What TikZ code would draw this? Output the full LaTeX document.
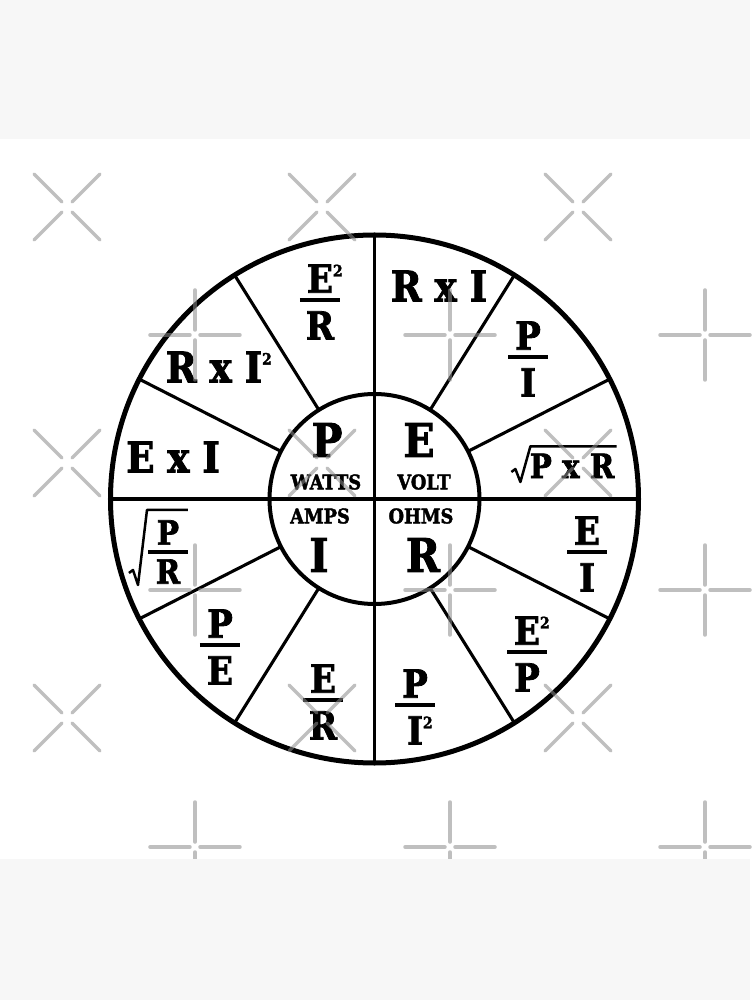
\documentclass[tikz,border=0pt]{standalone}
\usepackage{fontspec}
\setmainfont{DejaVu Serif}[FakeStretch=0.88, BoldFeatures={FakeBold=2}]
\usetikzlibrary{calc}
\definecolor{bandgray}{HTML}{F7F7F7}
\definecolor{markgray}{HTML}{8C8C8C}
\newcommand{\outerRadius}[0]{264}
\newcommand{\innerRadius}[0]{105}
\newcommand{\markOpacity}[0]{0.55}
\newcommand{\twoSup}[0]{\rlap{\smash{\raisebox{0.42em}{\fontsize{9}{9}\selectfont 2}}}}
\newcommand{\ohmFrac}[4]{%
  \coordinate (#1) at (#2);
  \draw[fracbar] ($(#1)+(-20,0)$) -- ($(#1)+(20,0)$);
  \node[fractext, anchor=south] (#1-num) at ($(#1)+(0,7)$) {#3};
  \node[fractext, anchor=north] (#1-den) at ($(#1)+(0,-11)$) {#4};
}

\begin{document}
\begin{tikzpicture}[x=0.2mm, y=0.2mm]
  \tikzset{
    ring/.style={line width=1mm},
    hub/.style={line width=0.8mm},
    spoke/.style={line width=0.62mm},
    fracbar/.style={line width=0.66mm},
    radical/.style={line width=0.5mm, line join=round},
    bigletter/.style={font=\fontsize{26.5}{28}\selectfont\bfseries, inner sep=0},
    unitlabel/.style={font=\fontsize{11.5}{12}\selectfont\bfseries, inner sep=0},
    ringtext/.style={font=\fontsize{24}{26}\selectfont\bfseries, inner sep=0},
    fractext/.style={font=\fontsize{22}{24}\selectfont\bfseries, inner sep=0},
    roottext/.style={font=\fontsize{19}{21}\selectfont\bfseries, inner sep=0},
    watermark/.style={draw=markgray, opacity=\markOpacity, line width=0.7mm, line cap=round}
  }
  \fill[white] (-374.5,-501) rectangle (375.5,499);
  \coordinate (c) at (0,0);
  \coordinate (top) at (90:\outerRadius);
  \coordinate (bottom) at (270:\outerRadius);
  \coordinate (left) at (180:\outerRadius);
  \coordinate (right) at (0:\outerRadius);
  \draw[ring] (c) circle (\outerRadius);
  \draw[hub] (c) circle (\innerRadius);
  \draw[spoke] (top) -- (bottom);
  \draw[spoke] (left) -- (right);
  \foreach \a in {27,58,122,153,207,238,302,333}
    \draw[spoke] (\a:\innerRadius) -- (\a:\outerRadius);

  \node[bigletter] (p) at (-47.5,59) {P};
  \node[unitlabel] (watts) at (-48.5,17) {WATTS};
  \node[bigletter] (e) at (44.5,59) {E};
  \node[unitlabel] (volt) at (49.5,17) {VOLT};
  \node[unitlabel] (amps) at (-54.5,-17) {AMPS};
  \node[bigletter] (i) at (-55.5,-56) {I};
  \node[unitlabel] (ohms) at (46.5,-17) {OHMS};
  \node[bigletter] (r) at (48.5,-56) {R};

  \node[ringtext] (rxi) at (64.5,213) {R x I};
  \node[ringtext] (rxisq) at (-160.5,132) {R x I\twoSup};
  \node[ringtext] (exi) at (-201.5,42) {E x I};

  \ohmFrac{er-top}{-54.5,199}{E\twoSup}{R}
  \ohmFrac{pi}{153.5,142}{P}{I}
  \ohmFrac{pe}{-154.5,-146}{P}{E}
  \ohmFrac{er-bot}{-51.5,-201}{E}{R}
  \ohmFrac{pisq}{40.5,-206}{P}{I\twoSup}
  \ohmFrac{ep}{152.5,-153}{E\twoSup}{P}
  \ohmFrac{ei}{212.5,-53}{E}{I}

  \node[roottext, anchor=base] (pxr) at (197.5,21) {P x R};
  \draw[radical] ($(pxr.base west)+(-18,6)$) -- ++(4,3) -- ($(pxr.base west)+(-9,-4)$)
    -- ($(pxr.north west)+(1,7)$) -- ($(pxr.north east)+(2,7)$);

  \coordinate (pr) at (-206.5,-53);
  \draw[fracbar] ($(pr)+(-20,0)$) -- ($(pr)+(20,0)$);
  \node[roottext, anchor=south] (pr-num) at ($(pr)+(0,7)$) {P};
  \node[roottext, anchor=north] (pr-den) at ($(pr)+(0,-7)$) {R};
  \draw[radical] ($(pr)+(-39,-21)$) -- ++(4,3) -- ($(pr)+(-30,-33)$)
    -- ($(pr)+(-21,42)$) -- ($(pr)+(20,42)$);

  \foreach \mx/\my in {-307.5/292,-52.5/292,203.5/292,-307.5/36,-52.5/36,203.5/36,-307.5/-219,-52.5/-219,203.5/-219}
    \foreach \dx/\dy in {1/1,1/-1,-1/1,-1/-1}
      \draw[watermark] ({\mx+5*\dx},{\my+5*\dy}) -- ({\mx+33*\dx},{\my+33*\dy});
  \foreach \mx/\my in {-179.5/164,75.5/164,330.5/164,-179.5/-91,75.5/-91,330.5/-91,-179.5/-348,75.5/-348,330.5/-348}
    \foreach \dx/\dy in {1/0,-1/0,0/1,0/-1}
      \draw[watermark] ({\mx+5*\dx},{\my+5*\dy}) -- ({\mx+45*\dx},{\my+45*\dy});

  \fill[bandgray] (-374.5,499) rectangle (375.5,360);
  \fill[bandgray] (-374.5,-360) rectangle (375.5,-501);
\end{tikzpicture}
\end{document}
